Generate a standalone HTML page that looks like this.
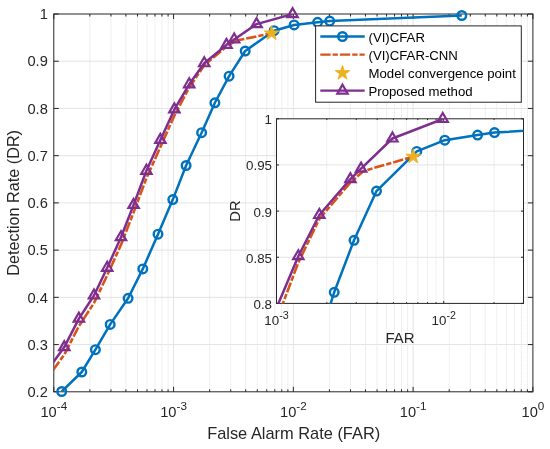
<!DOCTYPE html>
<html lang="en"><head><meta charset="utf-8"><title>DR vs FAR</title>
<style>html,body{margin:0;padding:0;background:#fff}body{width:550px;height:449px;overflow:hidden}svg{display:block}</style>
</head><body>
<svg width="550" height="449" viewBox="0 0 550 449" font-family="Liberation Sans, Arial, Helvetica, sans-serif" fill="#262626">
<defs><clipPath id="cm"><rect x="53.8" y="14.0" width="479.09999999999997" height="377.8"/></clipPath><clipPath id="ci"><rect x="276.5" y="118.8" width="247.0" height="184.59999999999997"/></clipPath></defs>
<rect width="550" height="449" fill="#fff"/>
<rect x="53.8" y="14.0" width="479.09999999999997" height="377.8" fill="#fff"/>
<line x1="89.86" y1="14.0" x2="89.86" y2="391.8" stroke="#e9e9e9" stroke-width="1" stroke-dasharray="1.5 0.5"/>
<line x1="110.95" y1="14.0" x2="110.95" y2="391.8" stroke="#e9e9e9" stroke-width="1" stroke-dasharray="1.5 0.5"/>
<line x1="125.91" y1="14.0" x2="125.91" y2="391.8" stroke="#e9e9e9" stroke-width="1" stroke-dasharray="1.5 0.5"/>
<line x1="137.52" y1="14.0" x2="137.52" y2="391.8" stroke="#e9e9e9" stroke-width="1" stroke-dasharray="1.5 0.5"/>
<line x1="147.00" y1="14.0" x2="147.00" y2="391.8" stroke="#e9e9e9" stroke-width="1" stroke-dasharray="1.5 0.5"/>
<line x1="155.02" y1="14.0" x2="155.02" y2="391.8" stroke="#e9e9e9" stroke-width="1" stroke-dasharray="1.5 0.5"/>
<line x1="161.97" y1="14.0" x2="161.97" y2="391.8" stroke="#e9e9e9" stroke-width="1" stroke-dasharray="1.5 0.5"/>
<line x1="168.09" y1="14.0" x2="168.09" y2="391.8" stroke="#e9e9e9" stroke-width="1" stroke-dasharray="1.5 0.5"/>
<line x1="209.63" y1="14.0" x2="209.63" y2="391.8" stroke="#e9e9e9" stroke-width="1" stroke-dasharray="1.5 0.5"/>
<line x1="230.72" y1="14.0" x2="230.72" y2="391.8" stroke="#e9e9e9" stroke-width="1" stroke-dasharray="1.5 0.5"/>
<line x1="245.69" y1="14.0" x2="245.69" y2="391.8" stroke="#e9e9e9" stroke-width="1" stroke-dasharray="1.5 0.5"/>
<line x1="257.29" y1="14.0" x2="257.29" y2="391.8" stroke="#e9e9e9" stroke-width="1" stroke-dasharray="1.5 0.5"/>
<line x1="266.78" y1="14.0" x2="266.78" y2="391.8" stroke="#e9e9e9" stroke-width="1" stroke-dasharray="1.5 0.5"/>
<line x1="274.80" y1="14.0" x2="274.80" y2="391.8" stroke="#e9e9e9" stroke-width="1" stroke-dasharray="1.5 0.5"/>
<line x1="281.74" y1="14.0" x2="281.74" y2="391.8" stroke="#e9e9e9" stroke-width="1" stroke-dasharray="1.5 0.5"/>
<line x1="287.87" y1="14.0" x2="287.87" y2="391.8" stroke="#e9e9e9" stroke-width="1" stroke-dasharray="1.5 0.5"/>
<line x1="329.41" y1="14.0" x2="329.41" y2="391.8" stroke="#e9e9e9" stroke-width="1" stroke-dasharray="1.5 0.5"/>
<line x1="350.50" y1="14.0" x2="350.50" y2="391.8" stroke="#e9e9e9" stroke-width="1" stroke-dasharray="1.5 0.5"/>
<line x1="365.46" y1="14.0" x2="365.46" y2="391.8" stroke="#e9e9e9" stroke-width="1" stroke-dasharray="1.5 0.5"/>
<line x1="377.07" y1="14.0" x2="377.07" y2="391.8" stroke="#e9e9e9" stroke-width="1" stroke-dasharray="1.5 0.5"/>
<line x1="386.55" y1="14.0" x2="386.55" y2="391.8" stroke="#e9e9e9" stroke-width="1" stroke-dasharray="1.5 0.5"/>
<line x1="394.57" y1="14.0" x2="394.57" y2="391.8" stroke="#e9e9e9" stroke-width="1" stroke-dasharray="1.5 0.5"/>
<line x1="401.52" y1="14.0" x2="401.52" y2="391.8" stroke="#e9e9e9" stroke-width="1" stroke-dasharray="1.5 0.5"/>
<line x1="407.64" y1="14.0" x2="407.64" y2="391.8" stroke="#e9e9e9" stroke-width="1" stroke-dasharray="1.5 0.5"/>
<line x1="449.18" y1="14.0" x2="449.18" y2="391.8" stroke="#e9e9e9" stroke-width="1" stroke-dasharray="1.5 0.5"/>
<line x1="470.27" y1="14.0" x2="470.27" y2="391.8" stroke="#e9e9e9" stroke-width="1" stroke-dasharray="1.5 0.5"/>
<line x1="485.24" y1="14.0" x2="485.24" y2="391.8" stroke="#e9e9e9" stroke-width="1" stroke-dasharray="1.5 0.5"/>
<line x1="496.84" y1="14.0" x2="496.84" y2="391.8" stroke="#e9e9e9" stroke-width="1" stroke-dasharray="1.5 0.5"/>
<line x1="506.33" y1="14.0" x2="506.33" y2="391.8" stroke="#e9e9e9" stroke-width="1" stroke-dasharray="1.5 0.5"/>
<line x1="514.35" y1="14.0" x2="514.35" y2="391.8" stroke="#e9e9e9" stroke-width="1" stroke-dasharray="1.5 0.5"/>
<line x1="521.29" y1="14.0" x2="521.29" y2="391.8" stroke="#e9e9e9" stroke-width="1" stroke-dasharray="1.5 0.5"/>
<line x1="527.42" y1="14.0" x2="527.42" y2="391.8" stroke="#e9e9e9" stroke-width="1" stroke-dasharray="1.5 0.5"/>
<line x1="173.57" y1="14.0" x2="173.57" y2="391.8" stroke="#e3e3e3" stroke-width="1"/>
<line x1="293.35" y1="14.0" x2="293.35" y2="391.8" stroke="#e3e3e3" stroke-width="1"/>
<line x1="413.12" y1="14.0" x2="413.12" y2="391.8" stroke="#e3e3e3" stroke-width="1"/>
<line x1="53.8" y1="344.58" x2="532.9" y2="344.58" stroke="#e3e3e3" stroke-width="1"/>
<line x1="53.8" y1="297.35" x2="532.9" y2="297.35" stroke="#e3e3e3" stroke-width="1"/>
<line x1="53.8" y1="250.13" x2="532.9" y2="250.13" stroke="#e3e3e3" stroke-width="1"/>
<line x1="53.8" y1="202.90" x2="532.9" y2="202.90" stroke="#e3e3e3" stroke-width="1"/>
<line x1="53.8" y1="155.68" x2="532.9" y2="155.68" stroke="#e3e3e3" stroke-width="1"/>
<line x1="53.8" y1="108.45" x2="532.9" y2="108.45" stroke="#e3e3e3" stroke-width="1"/>
<line x1="53.8" y1="61.23" x2="532.9" y2="61.23" stroke="#e3e3e3" stroke-width="1"/>
<line x1="53.80" y1="391.8" x2="53.80" y2="386.8" stroke="#262626" stroke-width="1"/>
<line x1="53.80" y1="14.0" x2="53.80" y2="19.0" stroke="#262626" stroke-width="1"/>
<line x1="89.86" y1="391.8" x2="89.86" y2="389.3" stroke="#262626" stroke-width="1"/>
<line x1="89.86" y1="14.0" x2="89.86" y2="16.5" stroke="#262626" stroke-width="1"/>
<line x1="110.95" y1="391.8" x2="110.95" y2="389.3" stroke="#262626" stroke-width="1"/>
<line x1="110.95" y1="14.0" x2="110.95" y2="16.5" stroke="#262626" stroke-width="1"/>
<line x1="125.91" y1="391.8" x2="125.91" y2="389.3" stroke="#262626" stroke-width="1"/>
<line x1="125.91" y1="14.0" x2="125.91" y2="16.5" stroke="#262626" stroke-width="1"/>
<line x1="137.52" y1="391.8" x2="137.52" y2="389.3" stroke="#262626" stroke-width="1"/>
<line x1="137.52" y1="14.0" x2="137.52" y2="16.5" stroke="#262626" stroke-width="1"/>
<line x1="147.00" y1="391.8" x2="147.00" y2="389.3" stroke="#262626" stroke-width="1"/>
<line x1="147.00" y1="14.0" x2="147.00" y2="16.5" stroke="#262626" stroke-width="1"/>
<line x1="155.02" y1="391.8" x2="155.02" y2="389.3" stroke="#262626" stroke-width="1"/>
<line x1="155.02" y1="14.0" x2="155.02" y2="16.5" stroke="#262626" stroke-width="1"/>
<line x1="161.97" y1="391.8" x2="161.97" y2="389.3" stroke="#262626" stroke-width="1"/>
<line x1="161.97" y1="14.0" x2="161.97" y2="16.5" stroke="#262626" stroke-width="1"/>
<line x1="168.09" y1="391.8" x2="168.09" y2="389.3" stroke="#262626" stroke-width="1"/>
<line x1="168.09" y1="14.0" x2="168.09" y2="16.5" stroke="#262626" stroke-width="1"/>
<line x1="173.57" y1="391.8" x2="173.57" y2="386.8" stroke="#262626" stroke-width="1"/>
<line x1="173.57" y1="14.0" x2="173.57" y2="19.0" stroke="#262626" stroke-width="1"/>
<line x1="209.63" y1="391.8" x2="209.63" y2="389.3" stroke="#262626" stroke-width="1"/>
<line x1="209.63" y1="14.0" x2="209.63" y2="16.5" stroke="#262626" stroke-width="1"/>
<line x1="230.72" y1="391.8" x2="230.72" y2="389.3" stroke="#262626" stroke-width="1"/>
<line x1="230.72" y1="14.0" x2="230.72" y2="16.5" stroke="#262626" stroke-width="1"/>
<line x1="245.69" y1="391.8" x2="245.69" y2="389.3" stroke="#262626" stroke-width="1"/>
<line x1="245.69" y1="14.0" x2="245.69" y2="16.5" stroke="#262626" stroke-width="1"/>
<line x1="257.29" y1="391.8" x2="257.29" y2="389.3" stroke="#262626" stroke-width="1"/>
<line x1="257.29" y1="14.0" x2="257.29" y2="16.5" stroke="#262626" stroke-width="1"/>
<line x1="266.78" y1="391.8" x2="266.78" y2="389.3" stroke="#262626" stroke-width="1"/>
<line x1="266.78" y1="14.0" x2="266.78" y2="16.5" stroke="#262626" stroke-width="1"/>
<line x1="274.80" y1="391.8" x2="274.80" y2="389.3" stroke="#262626" stroke-width="1"/>
<line x1="274.80" y1="14.0" x2="274.80" y2="16.5" stroke="#262626" stroke-width="1"/>
<line x1="281.74" y1="391.8" x2="281.74" y2="389.3" stroke="#262626" stroke-width="1"/>
<line x1="281.74" y1="14.0" x2="281.74" y2="16.5" stroke="#262626" stroke-width="1"/>
<line x1="287.87" y1="391.8" x2="287.87" y2="389.3" stroke="#262626" stroke-width="1"/>
<line x1="287.87" y1="14.0" x2="287.87" y2="16.5" stroke="#262626" stroke-width="1"/>
<line x1="293.35" y1="391.8" x2="293.35" y2="386.8" stroke="#262626" stroke-width="1"/>
<line x1="293.35" y1="14.0" x2="293.35" y2="19.0" stroke="#262626" stroke-width="1"/>
<line x1="329.41" y1="391.8" x2="329.41" y2="389.3" stroke="#262626" stroke-width="1"/>
<line x1="329.41" y1="14.0" x2="329.41" y2="16.5" stroke="#262626" stroke-width="1"/>
<line x1="350.50" y1="391.8" x2="350.50" y2="389.3" stroke="#262626" stroke-width="1"/>
<line x1="350.50" y1="14.0" x2="350.50" y2="16.5" stroke="#262626" stroke-width="1"/>
<line x1="365.46" y1="391.8" x2="365.46" y2="389.3" stroke="#262626" stroke-width="1"/>
<line x1="365.46" y1="14.0" x2="365.46" y2="16.5" stroke="#262626" stroke-width="1"/>
<line x1="377.07" y1="391.8" x2="377.07" y2="389.3" stroke="#262626" stroke-width="1"/>
<line x1="377.07" y1="14.0" x2="377.07" y2="16.5" stroke="#262626" stroke-width="1"/>
<line x1="386.55" y1="391.8" x2="386.55" y2="389.3" stroke="#262626" stroke-width="1"/>
<line x1="386.55" y1="14.0" x2="386.55" y2="16.5" stroke="#262626" stroke-width="1"/>
<line x1="394.57" y1="391.8" x2="394.57" y2="389.3" stroke="#262626" stroke-width="1"/>
<line x1="394.57" y1="14.0" x2="394.57" y2="16.5" stroke="#262626" stroke-width="1"/>
<line x1="401.52" y1="391.8" x2="401.52" y2="389.3" stroke="#262626" stroke-width="1"/>
<line x1="401.52" y1="14.0" x2="401.52" y2="16.5" stroke="#262626" stroke-width="1"/>
<line x1="407.64" y1="391.8" x2="407.64" y2="389.3" stroke="#262626" stroke-width="1"/>
<line x1="407.64" y1="14.0" x2="407.64" y2="16.5" stroke="#262626" stroke-width="1"/>
<line x1="413.12" y1="391.8" x2="413.12" y2="386.8" stroke="#262626" stroke-width="1"/>
<line x1="413.12" y1="14.0" x2="413.12" y2="19.0" stroke="#262626" stroke-width="1"/>
<line x1="449.18" y1="391.8" x2="449.18" y2="389.3" stroke="#262626" stroke-width="1"/>
<line x1="449.18" y1="14.0" x2="449.18" y2="16.5" stroke="#262626" stroke-width="1"/>
<line x1="470.27" y1="391.8" x2="470.27" y2="389.3" stroke="#262626" stroke-width="1"/>
<line x1="470.27" y1="14.0" x2="470.27" y2="16.5" stroke="#262626" stroke-width="1"/>
<line x1="485.24" y1="391.8" x2="485.24" y2="389.3" stroke="#262626" stroke-width="1"/>
<line x1="485.24" y1="14.0" x2="485.24" y2="16.5" stroke="#262626" stroke-width="1"/>
<line x1="496.84" y1="391.8" x2="496.84" y2="389.3" stroke="#262626" stroke-width="1"/>
<line x1="496.84" y1="14.0" x2="496.84" y2="16.5" stroke="#262626" stroke-width="1"/>
<line x1="506.33" y1="391.8" x2="506.33" y2="389.3" stroke="#262626" stroke-width="1"/>
<line x1="506.33" y1="14.0" x2="506.33" y2="16.5" stroke="#262626" stroke-width="1"/>
<line x1="514.35" y1="391.8" x2="514.35" y2="389.3" stroke="#262626" stroke-width="1"/>
<line x1="514.35" y1="14.0" x2="514.35" y2="16.5" stroke="#262626" stroke-width="1"/>
<line x1="521.29" y1="391.8" x2="521.29" y2="389.3" stroke="#262626" stroke-width="1"/>
<line x1="521.29" y1="14.0" x2="521.29" y2="16.5" stroke="#262626" stroke-width="1"/>
<line x1="527.42" y1="391.8" x2="527.42" y2="389.3" stroke="#262626" stroke-width="1"/>
<line x1="527.42" y1="14.0" x2="527.42" y2="16.5" stroke="#262626" stroke-width="1"/>
<line x1="532.90" y1="391.8" x2="532.90" y2="386.8" stroke="#262626" stroke-width="1"/>
<line x1="532.90" y1="14.0" x2="532.90" y2="19.0" stroke="#262626" stroke-width="1"/>
<line x1="53.8" y1="391.80" x2="58.8" y2="391.80" stroke="#262626" stroke-width="1"/>
<line x1="532.9" y1="391.80" x2="527.9" y2="391.80" stroke="#262626" stroke-width="1"/>
<line x1="53.8" y1="344.58" x2="58.8" y2="344.58" stroke="#262626" stroke-width="1"/>
<line x1="532.9" y1="344.58" x2="527.9" y2="344.58" stroke="#262626" stroke-width="1"/>
<line x1="53.8" y1="297.35" x2="58.8" y2="297.35" stroke="#262626" stroke-width="1"/>
<line x1="532.9" y1="297.35" x2="527.9" y2="297.35" stroke="#262626" stroke-width="1"/>
<line x1="53.8" y1="250.13" x2="58.8" y2="250.13" stroke="#262626" stroke-width="1"/>
<line x1="532.9" y1="250.13" x2="527.9" y2="250.13" stroke="#262626" stroke-width="1"/>
<line x1="53.8" y1="202.90" x2="58.8" y2="202.90" stroke="#262626" stroke-width="1"/>
<line x1="532.9" y1="202.90" x2="527.9" y2="202.90" stroke="#262626" stroke-width="1"/>
<line x1="53.8" y1="155.68" x2="58.8" y2="155.68" stroke="#262626" stroke-width="1"/>
<line x1="532.9" y1="155.68" x2="527.9" y2="155.68" stroke="#262626" stroke-width="1"/>
<line x1="53.8" y1="108.45" x2="58.8" y2="108.45" stroke="#262626" stroke-width="1"/>
<line x1="532.9" y1="108.45" x2="527.9" y2="108.45" stroke="#262626" stroke-width="1"/>
<line x1="53.8" y1="61.23" x2="58.8" y2="61.23" stroke="#262626" stroke-width="1"/>
<line x1="532.9" y1="61.23" x2="527.9" y2="61.23" stroke="#262626" stroke-width="1"/>
<line x1="53.8" y1="14.00" x2="58.8" y2="14.00" stroke="#262626" stroke-width="1"/>
<line x1="532.9" y1="14.00" x2="527.9" y2="14.00" stroke="#262626" stroke-width="1"/>
<rect x="53.8" y="14.0" width="479.09999999999997" height="377.8" fill="none" stroke="#262626" stroke-width="1"/>
<g clip-path="url(#cm)">
<polyline points="61.70,391.50 81.80,372.00 95.40,349.70 110.20,324.40 128.10,298.30 142.80,268.90 158.00,234.20 172.80,199.60 186.10,165.50 201.60,132.70 214.90,102.77 229.09,76.17 245.20,50.99 274.07,30.68 294.13,24.95 317.62,22.34 329.72,21.06 461.80,15.50" fill="none" stroke="#0072BD" stroke-width="2.5" stroke-linejoin="round"/>
<polyline points="41.60,385.85 64.30,354.64 78.90,326.13 94.00,303.02 107.20,275.31 121.00,244.69 133.60,212.38 146.40,178.27 160.40,146.92 174.40,115.57 189.19,87.57 204.23,65.23 226.51,46.58 235.89,40.71 271.56,33.34" fill="none" stroke="#D95319" stroke-width="2.6" stroke-dasharray="10.3 2 5.3 2" stroke-linejoin="round"/>
<polyline points="41.60,378.30 64.30,347.10 78.90,318.60 94.00,295.50 107.20,267.80 121.00,237.20 133.60,204.90 146.40,170.80 160.40,139.90 174.40,109.40 189.19,84.30 204.23,63.22 226.51,44.85 234.17,39.48 256.59,24.08 292.62,14.10" fill="none" stroke="#7E2F8E" stroke-width="2.5" stroke-linejoin="round"/>
</g>
<circle cx="61.70" cy="391.50" r="4.3" fill="none" stroke="#0072BD" stroke-width="2.4"/>
<circle cx="81.80" cy="372.00" r="4.3" fill="none" stroke="#0072BD" stroke-width="2.4"/>
<circle cx="95.40" cy="349.70" r="4.3" fill="none" stroke="#0072BD" stroke-width="2.4"/>
<circle cx="110.20" cy="324.40" r="4.3" fill="none" stroke="#0072BD" stroke-width="2.4"/>
<circle cx="128.10" cy="298.30" r="4.3" fill="none" stroke="#0072BD" stroke-width="2.4"/>
<circle cx="142.80" cy="268.90" r="4.3" fill="none" stroke="#0072BD" stroke-width="2.4"/>
<circle cx="158.00" cy="234.20" r="4.3" fill="none" stroke="#0072BD" stroke-width="2.4"/>
<circle cx="172.80" cy="199.60" r="4.3" fill="none" stroke="#0072BD" stroke-width="2.4"/>
<circle cx="186.10" cy="165.50" r="4.3" fill="none" stroke="#0072BD" stroke-width="2.4"/>
<circle cx="201.60" cy="132.70" r="4.3" fill="none" stroke="#0072BD" stroke-width="2.4"/>
<circle cx="214.90" cy="102.77" r="4.3" fill="none" stroke="#0072BD" stroke-width="2.4"/>
<circle cx="229.09" cy="76.17" r="4.3" fill="none" stroke="#0072BD" stroke-width="2.4"/>
<circle cx="245.20" cy="50.99" r="4.3" fill="none" stroke="#0072BD" stroke-width="2.4"/>
<circle cx="274.07" cy="30.68" r="4.3" fill="none" stroke="#0072BD" stroke-width="2.4"/>
<circle cx="294.13" cy="24.95" r="4.3" fill="none" stroke="#0072BD" stroke-width="2.4"/>
<circle cx="317.62" cy="22.34" r="4.3" fill="none" stroke="#0072BD" stroke-width="2.4"/>
<circle cx="329.72" cy="21.06" r="4.3" fill="none" stroke="#0072BD" stroke-width="2.4"/>
<circle cx="461.80" cy="15.50" r="4.3" fill="none" stroke="#0072BD" stroke-width="2.4"/>
<polygon points="271.56,25.54 273.33,30.91 278.98,30.93 274.42,34.27 276.15,39.65 271.56,36.34 266.98,39.65 268.71,34.27 264.14,30.93 269.80,30.91" fill="#EDB120" stroke="#EDB120" stroke-width="0.8" stroke-linejoin="miter"/>
<polygon points="64.30,341.12 59.10,350.12 69.50,350.12" fill="none" stroke="#7E2F8E" stroke-width="2.2" stroke-linejoin="miter"/>
<polygon points="78.90,312.62 73.70,321.62 84.10,321.62" fill="none" stroke="#7E2F8E" stroke-width="2.2" stroke-linejoin="miter"/>
<polygon points="94.00,289.52 88.80,298.52 99.20,298.52" fill="none" stroke="#7E2F8E" stroke-width="2.2" stroke-linejoin="miter"/>
<polygon points="107.20,261.82 102.00,270.82 112.40,270.82" fill="none" stroke="#7E2F8E" stroke-width="2.2" stroke-linejoin="miter"/>
<polygon points="121.00,231.22 115.80,240.22 126.20,240.22" fill="none" stroke="#7E2F8E" stroke-width="2.2" stroke-linejoin="miter"/>
<polygon points="133.60,198.92 128.40,207.92 138.80,207.92" fill="none" stroke="#7E2F8E" stroke-width="2.2" stroke-linejoin="miter"/>
<polygon points="146.40,164.82 141.20,173.82 151.60,173.82" fill="none" stroke="#7E2F8E" stroke-width="2.2" stroke-linejoin="miter"/>
<polygon points="160.40,133.92 155.20,142.92 165.60,142.92" fill="none" stroke="#7E2F8E" stroke-width="2.2" stroke-linejoin="miter"/>
<polygon points="174.40,103.42 169.20,112.42 179.60,112.42" fill="none" stroke="#7E2F8E" stroke-width="2.2" stroke-linejoin="miter"/>
<polygon points="189.19,78.32 183.99,87.32 194.39,87.32" fill="none" stroke="#7E2F8E" stroke-width="2.2" stroke-linejoin="miter"/>
<polygon points="204.23,57.24 199.03,66.24 209.43,66.24" fill="none" stroke="#7E2F8E" stroke-width="2.2" stroke-linejoin="miter"/>
<polygon points="226.51,38.87 221.31,47.87 231.71,47.87" fill="none" stroke="#7E2F8E" stroke-width="2.2" stroke-linejoin="miter"/>
<polygon points="234.17,33.50 228.97,42.50 239.37,42.50" fill="none" stroke="#7E2F8E" stroke-width="2.2" stroke-linejoin="miter"/>
<polygon points="256.59,18.10 251.39,27.10 261.79,27.10" fill="none" stroke="#7E2F8E" stroke-width="2.2" stroke-linejoin="miter"/>
<polygon points="292.62,8.12 287.42,17.12 297.82,17.12" fill="none" stroke="#7E2F8E" stroke-width="2.2" stroke-linejoin="miter"/>
<text x="47.8" y="397.00" font-size="14.67" text-anchor="end">0.2</text>
<text x="47.8" y="349.78" font-size="14.67" text-anchor="end">0.3</text>
<text x="47.8" y="302.55" font-size="14.67" text-anchor="end">0.4</text>
<text x="47.8" y="255.33" font-size="14.67" text-anchor="end">0.5</text>
<text x="47.8" y="208.10" font-size="14.67" text-anchor="end">0.6</text>
<text x="47.8" y="160.88" font-size="14.67" text-anchor="end">0.7</text>
<text x="47.8" y="113.65" font-size="14.67" text-anchor="end">0.8</text>
<text x="47.8" y="66.43" font-size="14.67" text-anchor="end">0.9</text>
<text x="47.8" y="19.20" font-size="14.67" text-anchor="end">1</text>
<text x="53.80" y="416.8" font-size="14.67" text-anchor="middle">10<tspan dy="-7.0" font-size="11.7">-4</tspan></text>
<text x="173.57" y="416.8" font-size="14.67" text-anchor="middle">10<tspan dy="-7.0" font-size="11.7">-3</tspan></text>
<text x="293.35" y="416.8" font-size="14.67" text-anchor="middle">10<tspan dy="-7.0" font-size="11.7">-2</tspan></text>
<text x="413.12" y="416.8" font-size="14.67" text-anchor="middle">10<tspan dy="-7.0" font-size="11.7">-1</tspan></text>
<text x="532.90" y="416.8" font-size="14.67" text-anchor="middle">10<tspan dy="-7.0" font-size="11.7">0</tspan></text>
<text x="293.7" y="438.6" font-size="16.4" text-anchor="middle">False Alarm Rate (FAR)</text>
<text transform="translate(18.7,202.9) rotate(-90)" font-size="16.2" text-anchor="middle">Detection Rate (DR)</text>
<rect x="276.5" y="118.8" width="247.0" height="184.59999999999997" fill="#fff"/>
<line x1="326.84" y1="118.8" x2="326.84" y2="303.4" stroke="#e9e9e9" stroke-width="1" stroke-dasharray="1.5 0.5"/>
<line x1="356.28" y1="118.8" x2="356.28" y2="303.4" stroke="#e9e9e9" stroke-width="1" stroke-dasharray="1.5 0.5"/>
<line x1="377.17" y1="118.8" x2="377.17" y2="303.4" stroke="#e9e9e9" stroke-width="1" stroke-dasharray="1.5 0.5"/>
<line x1="393.38" y1="118.8" x2="393.38" y2="303.4" stroke="#e9e9e9" stroke-width="1" stroke-dasharray="1.5 0.5"/>
<line x1="406.62" y1="118.8" x2="406.62" y2="303.4" stroke="#e9e9e9" stroke-width="1" stroke-dasharray="1.5 0.5"/>
<line x1="417.81" y1="118.8" x2="417.81" y2="303.4" stroke="#e9e9e9" stroke-width="1" stroke-dasharray="1.5 0.5"/>
<line x1="427.51" y1="118.8" x2="427.51" y2="303.4" stroke="#e9e9e9" stroke-width="1" stroke-dasharray="1.5 0.5"/>
<line x1="436.07" y1="118.8" x2="436.07" y2="303.4" stroke="#e9e9e9" stroke-width="1" stroke-dasharray="1.5 0.5"/>
<line x1="494.05" y1="118.8" x2="494.05" y2="303.4" stroke="#e9e9e9" stroke-width="1" stroke-dasharray="1.5 0.5"/>
<line x1="443.72" y1="118.8" x2="443.72" y2="303.4" stroke="#e3e3e3" stroke-width="1"/>
<line x1="276.5" y1="257.25" x2="523.5" y2="257.25" stroke="#e3e3e3" stroke-width="1"/>
<line x1="276.5" y1="211.10" x2="523.5" y2="211.10" stroke="#e3e3e3" stroke-width="1"/>
<line x1="276.5" y1="164.95" x2="523.5" y2="164.95" stroke="#e3e3e3" stroke-width="1"/>
<line x1="276.50" y1="303.4" x2="276.50" y2="300.9" stroke="#262626" stroke-width="1"/>
<line x1="276.50" y1="118.8" x2="276.50" y2="121.3" stroke="#262626" stroke-width="1"/>
<line x1="326.84" y1="303.4" x2="326.84" y2="302.15" stroke="#262626" stroke-width="1"/>
<line x1="326.84" y1="118.8" x2="326.84" y2="120.05" stroke="#262626" stroke-width="1"/>
<line x1="356.28" y1="303.4" x2="356.28" y2="302.15" stroke="#262626" stroke-width="1"/>
<line x1="356.28" y1="118.8" x2="356.28" y2="120.05" stroke="#262626" stroke-width="1"/>
<line x1="377.17" y1="303.4" x2="377.17" y2="302.15" stroke="#262626" stroke-width="1"/>
<line x1="377.17" y1="118.8" x2="377.17" y2="120.05" stroke="#262626" stroke-width="1"/>
<line x1="393.38" y1="303.4" x2="393.38" y2="302.15" stroke="#262626" stroke-width="1"/>
<line x1="393.38" y1="118.8" x2="393.38" y2="120.05" stroke="#262626" stroke-width="1"/>
<line x1="406.62" y1="303.4" x2="406.62" y2="302.15" stroke="#262626" stroke-width="1"/>
<line x1="406.62" y1="118.8" x2="406.62" y2="120.05" stroke="#262626" stroke-width="1"/>
<line x1="417.81" y1="303.4" x2="417.81" y2="302.15" stroke="#262626" stroke-width="1"/>
<line x1="417.81" y1="118.8" x2="417.81" y2="120.05" stroke="#262626" stroke-width="1"/>
<line x1="427.51" y1="303.4" x2="427.51" y2="302.15" stroke="#262626" stroke-width="1"/>
<line x1="427.51" y1="118.8" x2="427.51" y2="120.05" stroke="#262626" stroke-width="1"/>
<line x1="436.07" y1="303.4" x2="436.07" y2="302.15" stroke="#262626" stroke-width="1"/>
<line x1="436.07" y1="118.8" x2="436.07" y2="120.05" stroke="#262626" stroke-width="1"/>
<line x1="443.72" y1="303.4" x2="443.72" y2="300.9" stroke="#262626" stroke-width="1"/>
<line x1="443.72" y1="118.8" x2="443.72" y2="121.3" stroke="#262626" stroke-width="1"/>
<line x1="494.05" y1="303.4" x2="494.05" y2="302.15" stroke="#262626" stroke-width="1"/>
<line x1="494.05" y1="118.8" x2="494.05" y2="120.05" stroke="#262626" stroke-width="1"/>
<line x1="523.50" y1="303.4" x2="523.50" y2="302.15" stroke="#262626" stroke-width="1"/>
<line x1="523.50" y1="118.8" x2="523.50" y2="120.05" stroke="#262626" stroke-width="1"/>
<line x1="276.5" y1="303.40" x2="279.0" y2="303.40" stroke="#262626" stroke-width="1"/>
<line x1="523.5" y1="303.40" x2="521.0" y2="303.40" stroke="#262626" stroke-width="1"/>
<line x1="276.5" y1="257.25" x2="279.0" y2="257.25" stroke="#262626" stroke-width="1"/>
<line x1="523.5" y1="257.25" x2="521.0" y2="257.25" stroke="#262626" stroke-width="1"/>
<line x1="276.5" y1="211.10" x2="279.0" y2="211.10" stroke="#262626" stroke-width="1"/>
<line x1="523.5" y1="211.10" x2="521.0" y2="211.10" stroke="#262626" stroke-width="1"/>
<line x1="276.5" y1="164.95" x2="279.0" y2="164.95" stroke="#262626" stroke-width="1"/>
<line x1="523.5" y1="164.95" x2="521.0" y2="164.95" stroke="#262626" stroke-width="1"/>
<line x1="276.5" y1="118.80" x2="279.0" y2="118.80" stroke="#262626" stroke-width="1"/>
<line x1="523.5" y1="118.80" x2="521.0" y2="118.80" stroke="#262626" stroke-width="1"/>
<rect x="276.5" y="118.8" width="247.0" height="184.59999999999997" fill="none" stroke="#262626" stroke-width="1"/>
<g clip-path="url(#ci)">
<polyline points="120.31,856.61 148.37,818.50 167.36,774.92 188.02,725.47 213.01,674.46 233.54,617.00 254.76,549.18 275.42,481.55 293.99,414.90 315.63,350.80 334.20,292.30 354.00,240.30 376.50,191.10 416.80,151.40 444.80,140.20 477.60,135.10 494.50,132.60 678.89,121.73" fill="none" stroke="#0072BD" stroke-width="2.5" stroke-linejoin="round"/>
<polyline points="92.25,845.57 123.94,784.57 144.32,728.84 165.41,683.68 183.83,629.52 203.10,569.69 220.69,506.53 238.56,439.86 258.11,378.59 277.65,317.31 298.30,262.60 319.30,218.93 350.40,182.47 363.50,171.00 413.30,156.60" fill="none" stroke="#D95319" stroke-width="2.6" stroke-dasharray="10.3 2 5.3 2" stroke-linejoin="round"/>
<polyline points="92.25,830.81 123.94,769.84 144.32,714.13 165.41,668.98 183.83,614.85 203.10,555.04 220.69,491.91 238.56,425.26 258.11,364.87 277.65,305.26 298.30,256.20 319.30,215.00 350.40,179.10 361.10,168.60 392.40,138.50 442.70,119.00" fill="none" stroke="#7E2F8E" stroke-width="2.5" stroke-linejoin="round"/>
</g>
<circle cx="334.20" cy="292.30" r="4.3" fill="none" stroke="#0072BD" stroke-width="2.4"/>
<circle cx="354.00" cy="240.30" r="4.3" fill="none" stroke="#0072BD" stroke-width="2.4"/>
<circle cx="376.50" cy="191.10" r="4.3" fill="none" stroke="#0072BD" stroke-width="2.4"/>
<circle cx="416.80" cy="151.40" r="4.3" fill="none" stroke="#0072BD" stroke-width="2.4"/>
<circle cx="444.80" cy="140.20" r="4.3" fill="none" stroke="#0072BD" stroke-width="2.4"/>
<circle cx="477.60" cy="135.10" r="4.3" fill="none" stroke="#0072BD" stroke-width="2.4"/>
<circle cx="494.50" cy="132.60" r="4.3" fill="none" stroke="#0072BD" stroke-width="2.4"/>
<polygon points="413.30,148.80 415.06,154.17 420.72,154.19 416.15,157.53 417.88,162.91 413.30,159.60 408.72,162.91 410.45,157.53 405.88,154.19 411.54,154.17" fill="#EDB120" stroke="#EDB120" stroke-width="0.8" stroke-linejoin="miter"/>
<polygon points="298.30,250.22 293.10,259.22 303.50,259.22" fill="none" stroke="#7E2F8E" stroke-width="2.2" stroke-linejoin="miter"/>
<polygon points="319.30,209.02 314.10,218.02 324.50,218.02" fill="none" stroke="#7E2F8E" stroke-width="2.2" stroke-linejoin="miter"/>
<polygon points="350.40,173.12 345.20,182.12 355.60,182.12" fill="none" stroke="#7E2F8E" stroke-width="2.2" stroke-linejoin="miter"/>
<polygon points="361.10,162.62 355.90,171.62 366.30,171.62" fill="none" stroke="#7E2F8E" stroke-width="2.2" stroke-linejoin="miter"/>
<polygon points="392.40,132.52 387.20,141.52 397.60,141.52" fill="none" stroke="#7E2F8E" stroke-width="2.2" stroke-linejoin="miter"/>
<polygon points="442.70,113.02 437.50,122.02 447.90,122.02" fill="none" stroke="#7E2F8E" stroke-width="2.2" stroke-linejoin="miter"/>
<text x="272.0" y="308.90" font-size="13.33" text-anchor="end">0.8</text>
<text x="272.0" y="262.75" font-size="13.33" text-anchor="end">0.85</text>
<text x="272.0" y="216.60" font-size="13.33" text-anchor="end">0.9</text>
<text x="272.0" y="170.45" font-size="13.33" text-anchor="end">0.95</text>
<text x="272.0" y="124.30" font-size="13.33" text-anchor="end">1</text>
<text x="276.50" y="325.0" font-size="13.33" text-anchor="middle">10<tspan dy="-6.0" font-size="10.7">-3</tspan></text>
<text x="443.72" y="325.0" font-size="13.33" text-anchor="middle">10<tspan dy="-6.0" font-size="10.7">-2</tspan></text>
<text x="400.0" y="343.3" font-size="14.9" text-anchor="middle">FAR</text>
<text transform="translate(240.1,211.1) rotate(-90)" font-size="14.67" text-anchor="middle">DR</text>
<rect x="315.6" y="25.9" width="205.69999999999993" height="76.30000000000001" fill="#fff" stroke="#262626" stroke-width="1"/>
<line x1="320.3" y1="36.5" x2="364.7" y2="36.5" stroke="#0072BD" stroke-width="2.4"/>
<circle cx="342.5" cy="36.5" r="4.3" fill="none" stroke="#0072BD" stroke-width="2.4"/>
<line x1="320.3" y1="54.6" x2="364.7" y2="54.6" stroke="#D95319" stroke-width="2.4" stroke-dasharray="10.3 2 5.3 2"/>
<polygon points="342.50,65.20 344.26,70.57 349.92,70.59 345.35,73.93 347.08,79.31 342.50,76.00 337.92,79.31 339.65,73.93 335.08,70.59 340.74,70.57" fill="#EDB120" stroke="#EDB120" stroke-width="0.8"/>
<line x1="320.3" y1="90.6" x2="364.7" y2="90.6" stroke="#7E2F8E" stroke-width="2.4"/>
<polygon points="342.50,84.62 337.30,93.62 347.70,93.62" fill="none" stroke="#7E2F8E" stroke-width="2.2"/>
<text x="368.5" y="41.7" font-size="13.2" fill="#000">(VI)CFAR</text>
<text x="368.5" y="59.8" font-size="13.2" fill="#000">(VI)CFAR-CNN</text>
<text x="368.5" y="78.2" font-size="13.2" fill="#000">Model convergence point</text>
<text x="368.5" y="95.8" font-size="13.2" fill="#000">Proposed method</text>
</svg>
</body></html>
